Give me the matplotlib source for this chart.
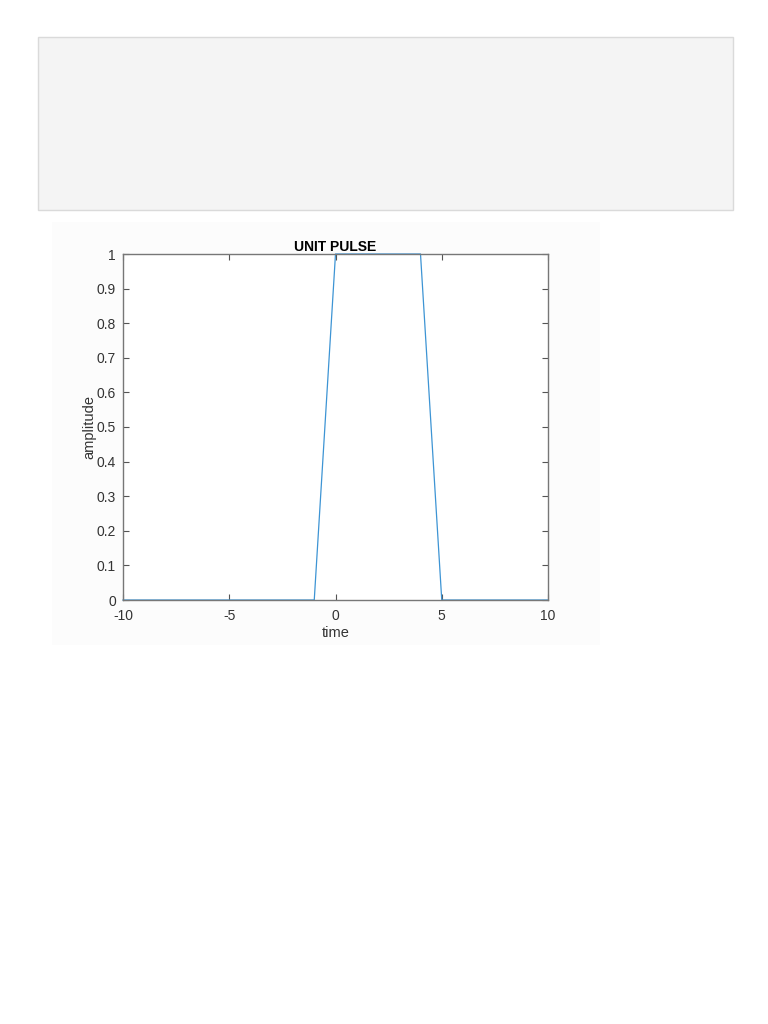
import matplotlib.pyplot as plt
from matplotlib.patches import Rectangle

plt.rcParams['font.family'] = ['Liberation Sans', 'DejaVu Sans']

# unit pulse sampled at integer times
t = list(range(-10, 11))
u = [0, 0, 0, 0, 0, 0, 0, 0, 0, 0,
     1, 1, 1, 1, 1,
     0, 0, 0, 0, 0, 0]
x_ticks = [-10, -5, 0, 5, 10]
y_ticks = [0, 0.1, 0.2, 0.3, 0.4, 0.5, 0.6, 0.7, 0.8, 0.9, 1]
y_labels = ['0', '0.1', '0.2', '0.3', '0.4', '0.5', '0.6', '0.7', '0.8', '0.9', '1']

W, H = 768, 1024
fig = plt.figure(figsize=(W / 100, H / 100), dpi=100)
fig.patch.set_facecolor('white')

# gray box on the page above the figure
fig.add_artist(Rectangle((38 / W, 1 - 210 / H), 695 / W, 173 / H,
                         transform=fig.transFigure, facecolor='#f4f4f4',
                         edgecolor='#dadada', linewidth=1, zorder=-2))
# faint figure background
fig.add_artist(Rectangle((52 / W, 1 - 645 / H), 548 / W, 423 / H,
                         transform=fig.transFigure, facecolor='#fcfcfc',
                         edgecolor='none', zorder=-2))

ax = fig.add_axes([123 / W, 1 - 600 / H, 425 / W, 346 / H])
ax.set_facecolor('white')
ax.plot(t, u, color='#3d94d4', linewidth=0.9, clip_on=False)

ax.set_xlim(-10, 10)
ax.set_ylim(0, 1)
ax.set_xticks(x_ticks)
ax.set_xticklabels([str(v) for v in x_ticks])
ax.set_yticks(y_ticks)
ax.set_yticklabels(y_labels)

ax.tick_params(direction='in', top=True, right=True, length=4, width=0.8,
               colors='#555555', labelsize=10, labelcolor='#333333')
ax.tick_params(axis='x', pad=6.5)
ax.tick_params(axis='y', pad=5)
for s in ax.spines.values():
    s.set_color('#777777')
    s.set_linewidth(1)

ax.set_title('UNIT PULSE', fontsize=10, fontweight='bold', color='black', pad=2)
ax.set_xlabel('time', fontsize=10.5, color='#333333', labelpad=2)
ax.set_ylabel('amplitude', fontsize=10.5, color='#333333', labelpad=0)

fig.savefig('out.png', dpi=100)
